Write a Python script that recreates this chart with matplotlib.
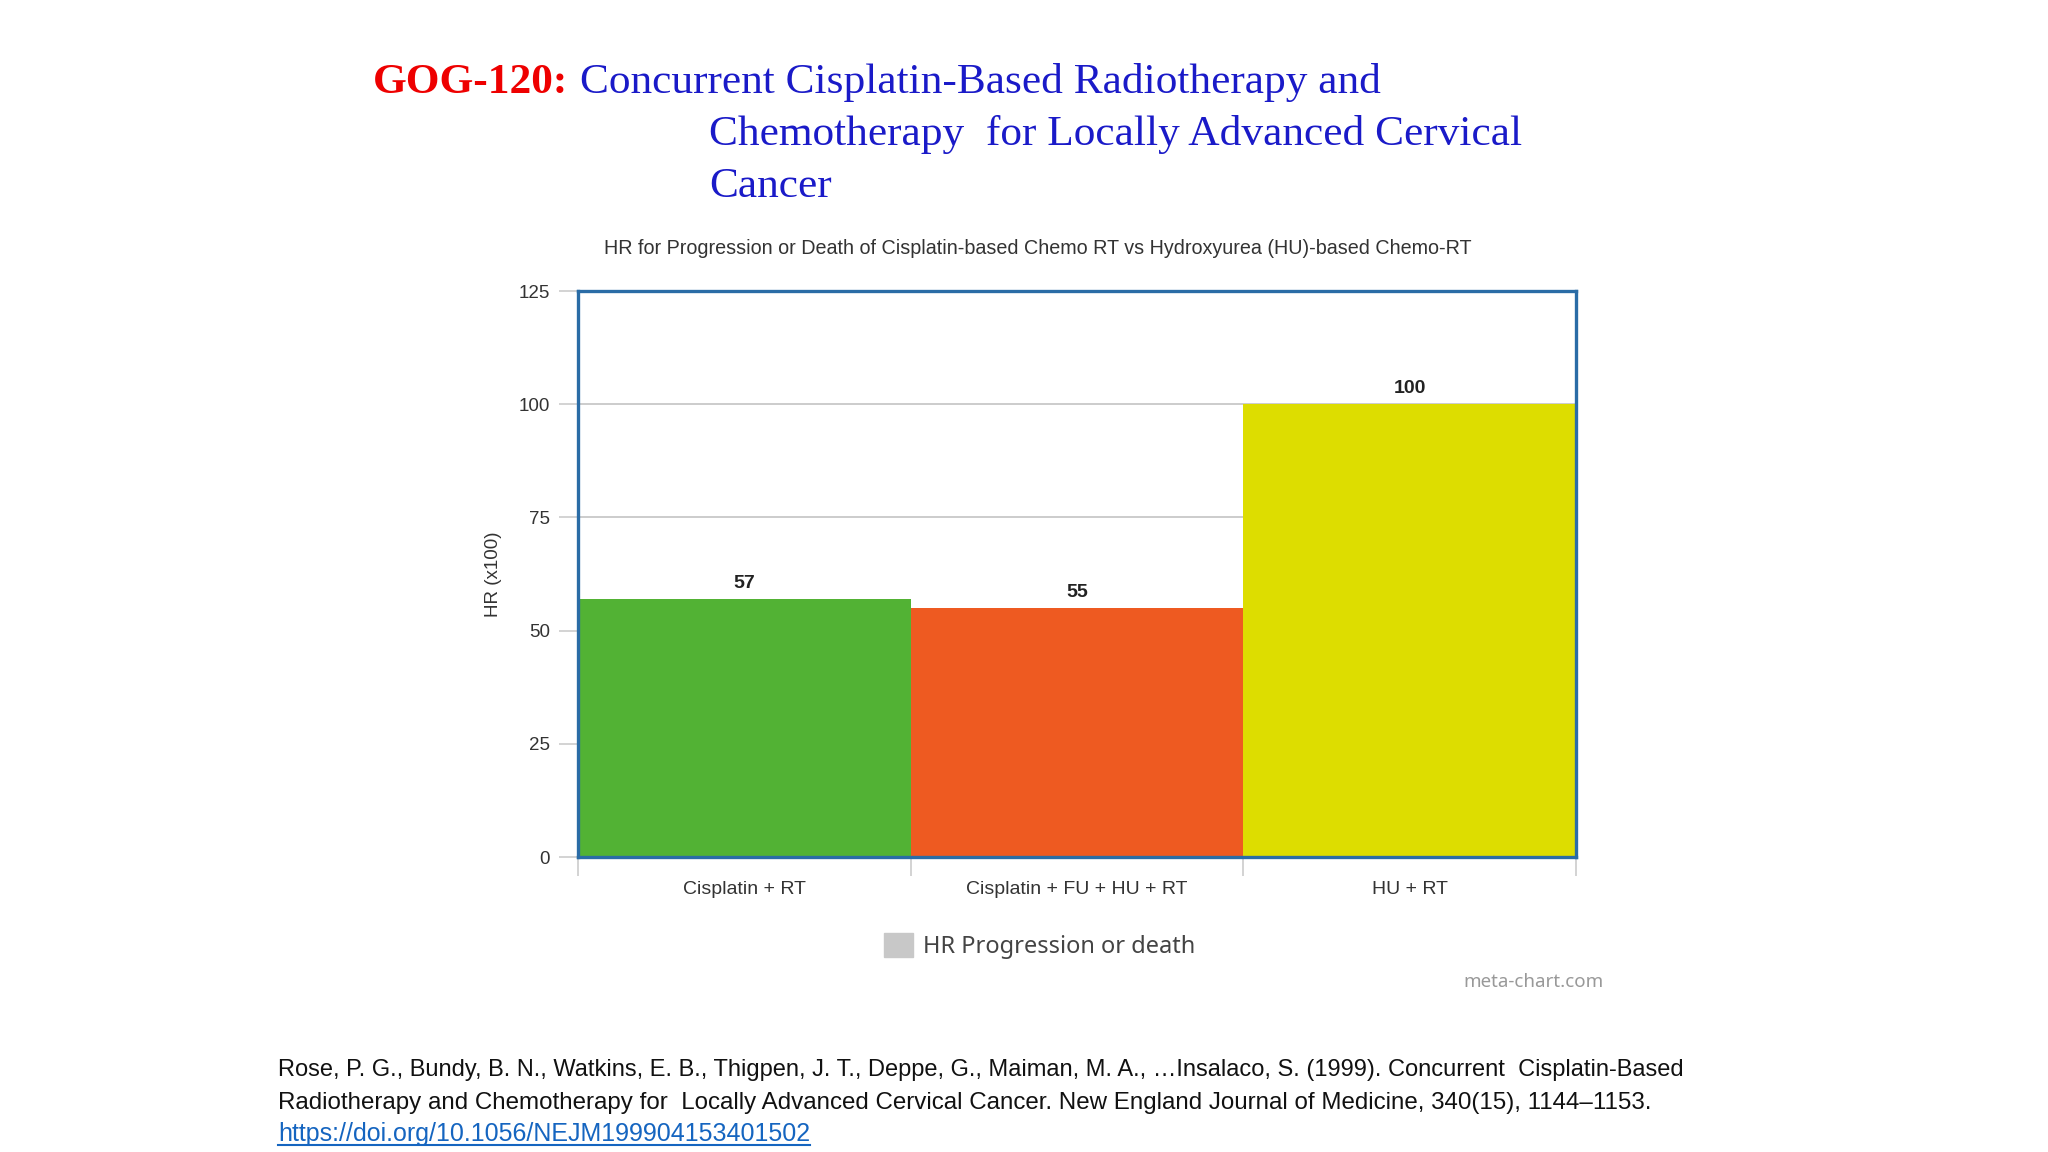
import matplotlib
matplotlib.use("Agg")
import matplotlib.pyplot as plt
from matplotlib.lines import Line2D

# ---- data ----
categories = ["Cisplatin + RT", "Cisplatin + FU + HU + RT", "HU + RT"]
hr_values = [57, 55, 100]
bar_colors = ["#52b234", "#ee5a21", "#dddd00"]
y_ticks = [0, 25, 50, 75, 100, 125]
series_name = "HR Progression or death"
chart_title = "HR for Progression or Death of Cisplatin-based Chemo RT vs Hydroxyurea (HU)-based Chemo-RT"
y_label = "HR (x100)"
citation_lines = [
    "Rose, P. G., Bundy, B. N., Watkins, E. B., Thigpen, J. T., Deppe, G., Maiman, M. A., \u2026Insalaco, S. (1999). Concurrent  Cisplatin-Based",
    "Radiotherapy and Chemotherapy for  Locally Advanced Cervical Cancer. New England Journal of Medicine, 340(15), 1144\u20131153.",
]
doi_link = "https://doi.org/10.1056/NEJM199904153401502"

W, H = 2048, 1152
fig = plt.figure(figsize=(W / 100, H / 100), dpi=100)
fig.patch.set_facecolor("white")

def fx(px):
    return px / W

def fy(py):
    return 1 - py / H

# ---- main title ----
serif = "Liberation Serif"
tsize = 31.2
fig.text(fx(373), fy(83), "GOG-120:", color="#ee0000", fontsize=tsize, fontweight="bold",
         family=serif, ha="left", va="center")
blue = "#1a1ac8"
fig.text(fx(580), fy(83), "Concurrent Cisplatin-Based Radiotherapy and", color=blue,
         fontsize=tsize, family=serif, ha="left", va="center")
fig.text(fx(709), fy(135), "Chemotherapy  for Locally Advanced Cervical", color=blue,
         fontsize=tsize, family=serif, ha="left", va="center")
fig.text(fx(709), fy(187), "Cancer", color=blue, fontsize=tsize, family=serif, ha="left", va="center")

# ---- chart ----
sans = "Liberation Sans"
ax_l, ax_r, ax_t, ax_b = 578, 1576, 291, 857
ax = fig.add_axes([fx(ax_l), fy(ax_b), fx(ax_r - ax_l), (ax_b - ax_t) / H])
x = list(range(len(categories)))
bars = ax.bar(x, hr_values, width=1.0, color=bar_colors, zorder=2, label=series_name)
ax.set_xlim(-0.5, len(categories) - 0.5)
ax.set_ylim(0, 125)
ax.set_yticks(y_ticks)
ax.set_yticklabels([str(t) for t in y_ticks], fontsize=13.5, color="#333333", family=sans)
ax.yaxis.grid(True, color="#cccccc", linewidth=1.4, zorder=0)
ax.set_axisbelow(True)
ax.tick_params(axis="y", length=14, width=1.2, color="#cccccc", pad=6)
# category boundary ticks on x
ax.set_xticks([-0.5 + i for i in range(len(categories) + 1)], minor=False)
ax.set_xticklabels([""] * (len(categories) + 1))
ax.tick_params(axis="x", length=14, width=1.2, color="#cccccc")
ax.set_xticks(x, minor=True)
ax.set_xticklabels(categories, minor=True, fontsize=14, color="#333333", family=sans)
ax.tick_params(axis="x", which="minor", length=0, pad=17)
for sp in ax.spines.values():
    sp.set_color("#2a6ca6")
    sp.set_linewidth(2.4)
    sp.set_zorder(3)
ax.set_ylabel(y_label, fontsize=13.5, color="#333333", family=sans, labelpad=12)

for xi, v in zip(x, hr_values):
    ax.annotate(str(v), (xi, v), xytext=(0, 5), textcoords="offset points",
                ha="center", va="bottom", fontsize=14, fontweight="bold", color="#222222",
                family=sans)

fig.text(fx(1038), fy(248), chart_title, fontsize=14.2, color="#333333", family=sans,
         ha="center", va="center")

# ---- legend ----
leg = ax.legend(handles=[bars[0]], labels=[series_name], loc="upper center",
                bbox_to_anchor=(fx(1040), fy(912)), bbox_transform=fig.transFigure,
                frameon=False, handlelength=1.2, handleheight=1.2, handletextpad=0.45,
                prop={"family": "Noto Sans", "size": 17})
for h in leg.legend_handles:
    h.set_color("#c8c8c8")
for t in leg.get_texts():
    t.set_color("#444444")

fig.text(fx(1604), fy(982), "meta-chart.com", fontsize=13.5, color="#999999",
         family="Noto Sans", ha="right", va="center")

# ---- citation ----
cit_sizes = [17, 17.4]
for i, line in enumerate(citation_lines):
    fig.text(fx(278), fy(1070 + 33 * i), line, fontsize=cit_sizes[i], color="#111111",
             family=sans, ha="left", va="center")
link = fig.text(fx(278), fy(1134), doi_link, fontsize=18, color="#1565c0", family=sans,
                ha="left", va="center")

fig.canvas.draw()
bb = link.get_window_extent()
fig.add_artist(Line2D([bb.x0 / W, bb.x1 / W], [(bb.y0 + 1) / H, (bb.y0 + 1) / H],
                      transform=fig.transFigure, color="#1565c0", linewidth=1.5))

fig.savefig("out.png", dpi=100, facecolor="white")
